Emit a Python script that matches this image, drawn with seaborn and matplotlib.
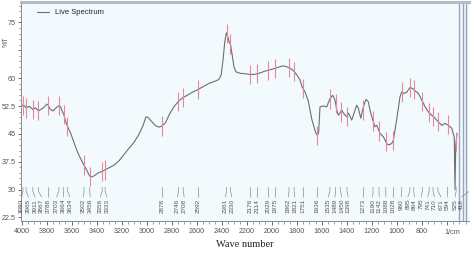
import numpy as np
import matplotlib
matplotlib.use("Agg")
import matplotlib.pyplot as plt
import matplotlib.transforms as mtransforms
from matplotlib.ticker import MultipleLocator, FixedLocator
import seaborn as sns

# ---------------- data ----------------
wavenumber = [4000, 3985, 3965, 3940, 3911, 3890, 3867, 3845, 3820, 3800, 3788, 3770,
              3750, 3725, 3703, 3690, 3675, 3664, 3650, 3634, 3610, 3580, 3550, 3520,
              3502, 3480, 3456, 3440, 3420, 3400, 3380, 3356, 3333, 3300, 3260, 3220,
              3180, 3140, 3100, 3060, 3030, 3006, 2990, 2960, 2930, 2900, 2878, 2850,
              2820, 2780, 2746, 2708, 2670, 2630, 2592, 2550, 2500, 2460, 2425, 2405,
              2390, 2375, 2363, 2350, 2340, 2330, 2318, 2302, 2286, 2250, 2214, 2176,
              2140, 2114, 2094, 2054, 2029, 2000, 1975, 1934, 1910, 1890, 1862, 1840,
              1821, 1800, 1775, 1758, 1734, 1710, 1694, 1678, 1662, 1650, 1636, 1625,
              1614, 1587, 1560, 1534, 1512, 1494, 1480, 1467, 1440, 1427, 1400, 1387,
              1360, 1334, 1320, 1307, 1288, 1267, 1246, 1227, 1214, 1192, 1174, 1160,
              1134, 1107, 1080, 1067, 1040, 1027, 1014, 1000, 974, 960, 947, 920,
              894, 872, 854, 827, 800, 774, 747, 720, 694, 667, 640, 614,
              587, 560, 540, 534, 528, 518]
transmittance = [52.5, 52.8, 52.0, 52.4, 51.6, 52.0, 51.2, 51.6, 52.2, 53.0, 52.7, 51.5,
                 51.2, 52.0, 52.6, 52.3, 51.0, 50.3, 48.5, 47.0, 45.3, 42.5, 39.8, 37.7,
                 36.6, 35.2, 33.6, 33.4, 33.7, 34.2, 34.6, 34.9, 35.3, 35.9, 36.6, 37.8,
                 39.5, 41.2, 42.8, 45.0, 47.2, 49.6, 49.4, 48.3, 47.2, 46.8, 47.1, 48.0,
                 50.2, 52.4, 53.8, 54.8, 55.5, 56.3, 56.9, 57.7, 58.6, 59.1, 59.6, 60.8,
                 64.8, 70.0, 72.2, 71.0, 69.6, 69.2, 66.6, 63.0, 61.7, 61.3, 61.2, 61.0,
                 61.0, 61.2, 61.4, 61.9, 62.1, 62.4, 62.6, 63.1, 63.3, 63.2, 62.8, 62.4,
                 61.8, 60.9, 59.6, 57.7, 56.3, 54.1, 51.4, 48.7, 46.9, 45.5, 44.6, 45.3,
                 52.3, 52.5, 52.3, 54.5, 55.4, 54.1, 51.4, 50.0, 51.4, 50.6, 49.6, 50.6,
                 48.7, 51.4, 52.7, 51.9, 49.2, 52.3, 54.3, 53.6, 51.4, 48.7, 46.9, 47.3,
                 45.1, 44.2, 42.4, 42.0, 42.4, 43.3, 46.0, 49.0, 55.0, 56.3, 55.9, 56.2,
                 57.5, 57.2, 56.6, 55.9, 54.1, 52.3, 50.9, 50.0, 49.2, 48.2, 47.3, 47.8,
                 47.3, 46.5, 44.0, 30.0, 42.0, 45.0]

peak_labels = ["3990", "3965", "3911", "3867", "3788", "3703", "3664", "3634", "3502",
               "3456", "3356", "3333", "2878", "2746", "2708", "2592", "2361", "2330",
               "2176", "2114", "2029", "1975", "1862", "1821", "1751", "1636", "1535",
               "1489", "1450", "1398", "1273", "1190", "1142", "1088", "1028", "960",
               "895", "864", "795", "741", "710", "671", "594", "525", "418"]
peak_wn = [float(s) for s in peak_labels]

edge_wn = [502, 470, 446]

x_ticks = [4000, 3800, 3600, 3400, 3200, 3000, 2800, 2600, 2400, 2200, 2000,
           1800, 1600, 1400, 1200, 1000, 800, 600]
x_tick_labels = ["4000", "3800", "3600", "3400", "3200", "3000", "2800", "2600",
                 "2400", "2200", "2000", "1800", "1600", "1400", "1200", "1000",
                 "800", ""]
y_ticks = [22.5, 30, 37.5, 45, 52.5, 60, 67.5, 75]
y_tick_labels = ["22.5", "30", "37.5", "45", "52.5", "60", "", "75"]

# ---------------- style ----------------
sns.set_style("ticks")
plt.rcParams["font.family"] = ["Liberation Sans", "DejaVu Sans"]

fig = plt.figure(figsize=(4.74, 2.57), dpi=100)
fig.patch.set_facecolor("white")
ax = fig.add_axes([0.0437, 0.1412, 0.9458, 0.8508])
ax.set_facecolor("#f3fafd")

sns.lineplot(x=wavenumber, y=transmittance, sort=False, estimator=None,
             color="#6e6e6e", lw=0.8, ax=ax, label="Live Spectrum")

for w in edge_wn:
    ax.axvline(w, color="#97a5bd", lw=1.0)

# peak markers
wn_arr = np.array(wavenumber, dtype=float)
t_arr = np.array(transmittance, dtype=float)
y_at = np.interp(peak_wn, wn_arr[::-1], t_arr[::-1])
ax.vlines(peak_wn, y_at - 2.6, y_at + 2.6, color="#e8869c", lw=0.8, zorder=3)

# label spreading (layout only)
gap = 53.0
pos = np.array(peak_wn, dtype=float)
for _ in range(400):
    for i in range(len(pos) - 1):
        d = pos[i] - pos[i + 1]
        if d < gap:
            s = (gap - d) / 2
            pos[i] += s
            pos[i + 1] -= s
    pos = np.clip(pos, 480, 4000)

for pw, lx, lab in zip(peak_wn, pos, peak_labels):
    ax.plot([pw, pw, lx], [30.6, 29.6, 28.0], color="#8c8c8c", lw=0.5)
    ax.text(lx, 27.5, lab, rotation=90, ha="center", va="top",
            fontsize=4.6, color="#555555")

# axes
ax.set_xlim(4008, 422)
ax.set_ylim(21.6, 80.5)
ax.xaxis.set_major_locator(FixedLocator(x_ticks))
ax.set_xticklabels(x_tick_labels)
ax.xaxis.set_minor_locator(MultipleLocator(50))
ax.yaxis.set_major_locator(FixedLocator(y_ticks))
ax.set_yticklabels(y_tick_labels)
ax.yaxis.set_minor_locator(MultipleLocator(1.5))
ax.tick_params(axis="both", which="major", labelsize=5.2, colors="#555555",
               length=3, width=0.6, pad=2)
ax.tick_params(axis="x", which="minor", length=2, width=0.5, color="#777777")
ax.tick_params(axis="y", which="minor", length=1.5, width=0.5, color="#777777")
ax.tick_params(axis="y", which="major", pad=1, length=2.5)

for side in ["left", "bottom"]:
    ax.spines[side].set_color("#8a8a8a")
    ax.spines[side].set_linewidth(0.7)
ax.spines["right"].set_visible(False)
ax.spines["top"].set_color("#b3bdc8")
ax.spines["top"].set_linewidth(2.2)

trans = mtransforms.blended_transform_factory(ax.transData, ax.transAxes)
ax.text(557, -0.052, "1/cm", transform=trans, ha="center", va="center",
        fontsize=5.2, color="#555555")

ax.set_xlabel("Wave number", family=["Liberation Serif", "DejaVu Serif"],
              fontsize=7.5, color="#222222", labelpad=4)
ax.set_ylabel("%T", fontsize=5, color="#555555")
ax.yaxis.set_label_coords(-0.024, 0.817)

leg = ax.legend(loc="upper left", bbox_to_anchor=(0.02, 1.0), frameon=False,
                fontsize=5.5, handlelength=1.6, handletextpad=0.8)

fig.savefig("out.png", dpi=100, facecolor="white")
